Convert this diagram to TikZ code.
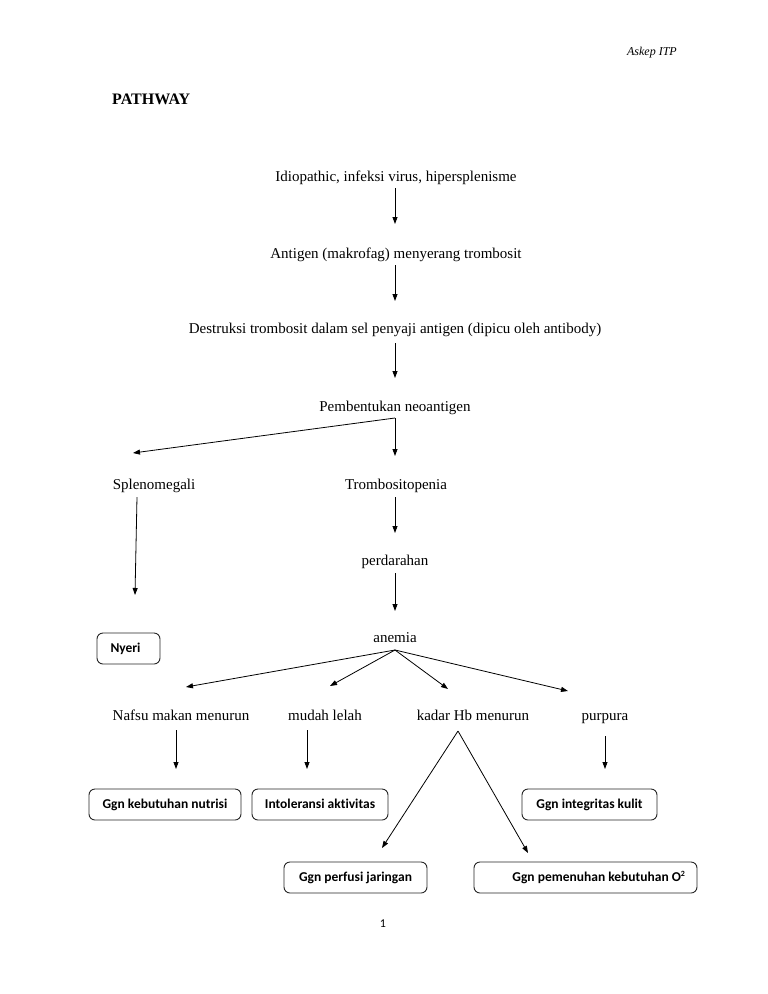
\documentclass[tikz,border=0pt]{standalone}
\usepackage{fontspec}
\setmainfont{Liberation Serif}
\newfontfamily\calfont[Ligatures=NoCommon]{Carlito}
\usetikzlibrary{arrows.meta,calc}
\begin{document}
\begin{tikzpicture}[x=1pt,y=-1pt,
 txt/.style={inner sep=0pt, text height=12pt, text depth=2.3pt, font=\fontsize{15}{18}\selectfont},
 box/.style={draw=black!85, rounded corners=6pt, line width=0.9pt, font=\calfont\bfseries\fontsize{13.5}{16}\selectfont, inner sep=0pt, text height=10pt, text depth=2.5pt, minimum height=31pt},
 arr/.style={-{Triangle[length=7pt,width=5pt]}, line width=0.8pt}]
\useasboundingbox[fill=white] (0,0) rectangle (768,994);

\node[inner sep=0pt, anchor=east, font=\itshape\fontsize{12}{14}\selectfont] (hdr) at (677,53) {Askep ITP};
\node[txt, anchor=west, font=\bfseries\fontsize{16}{18}\selectfont] (title) at (112,100) {PATHWAY};

\node[txt] (idio) at (396,177) {Idiopathic, infeksi virus, hipersplenisme};
\node[txt] (anti) at (396,254) {Antigen (makrofag) menyerang trombosit};
\node[txt] (des) at (395,329) {Destruksi trombosit dalam sel penyaji antigen (dipicu oleh antibody)};
\node[txt] (neo) at (395,407) {Pembentukan neoantigen};
\node[txt] (spl) at (154,485) {Splenomegali};
\node[txt] (tro) at (396,485) {Trombositopenia};
\node[txt] (per) at (395,561) {perdarahan};
\node[txt] (ane) at (395,638) {anemia};
\node[txt] (naf) at (181,716) {Nafsu makan menurun};
\node[txt] (mud) at (325,716) {mudah lelah};
\node[txt] (hb) at (473,716) {kadar Hb menurun};
\node[txt] (pur) at (605,716) {purpura};

\node[box, minimum width=63pt, text width=54pt, align=left, inner xsep=0pt] (nyeri) at (128.5,648.5) {\hspace*{9pt}Nyeri};
\node[box, minimum width=152pt] (nut) at (165,804.5) {Ggn kebutuhan nutrisi};
\node[box, minimum width=136pt] (int) at (320,804.5) {Intoleransi aktivitas};
\node[box, minimum width=135pt] (kul) at (589.5,804.5) {Ggn integritas kulit};
\node[box, minimum width=143pt] (perf) at (355.5,877.5) {Ggn perfusi jaringan};
\node[box, minimum width=223pt] (oks) at (585.5,877.5) {\hspace*{27pt}Ggn pemenuhan kebutuhan O\textsuperscript{\fontsize{8}{9}\selectfont 2}};

\node[inner sep=0pt, font=\calfont\fontsize{12}{14}\selectfont] (pg) at (383,924) {1};

\draw[arr] ($(idio)+(-1,11)$) -- ($(anti)+(-1,-30)$);
\draw[arr] ($(anti)+(-1,11)$) -- ($(anti)+(-1,47)$);
\draw[arr] ($(des)+(0,14)$) -- ($(neo)+(0,-29)$);
\coordinate (nhub) at ($(neo)+(0,11)$);
\draw[arr] (nhub) -- ($(tro)+(-1,-29)$);
\draw[arr] (nhub) -- ($(spl)+(-21,-32)$);
\draw[arr] ($(spl)+(-17,12)$) -- ($(spl)+(-19,110)$);
\draw[arr] ($(tro)+(-1,12)$) -- ($(per)+(0,-28)$);
\draw[arr] ($(per)+(0,12)$) -- ($(ane)+(0,-27)$);
\coordinate (ahub) at ($(ane)+(0,12)$);
\draw[arr] (ahub) -- ($(naf)+(5,-29)$);
\draw[arr] (ahub) -- ($(mud)+(5,-30)$);
\draw[arr] (ahub) -- ($(hb)+(-25,-27)$);
\draw[arr] (ahub) -- ($(pur)+(-37,-25)$);
\draw[arr] ($(naf)+(-5,14)$) -- ($(nut)+(11,-35.5)$);
\draw[arr] ($(mud)+(-18,14)$) -- ($(int)+(-13,-35.5)$);
\draw[arr] ($(pur)+(0,20)$) -- ($(kul)+(15.5,-35.5)$);
\coordinate (hhub) at ($(hb)+(-15,15)$);
\draw[arr] (hhub) -- ($(perf)+(26.5,-29.5)$);
\draw[arr] (hhub) -- ($(oks)+(-57.5,-24.5)$);
\end{tikzpicture}
\end{document}
